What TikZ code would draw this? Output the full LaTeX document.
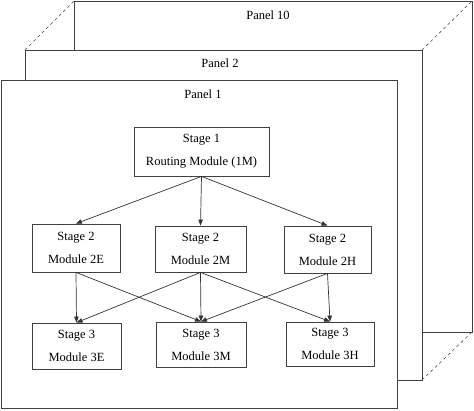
\documentclass[tikz,border=0pt]{standalone}
\usepackage{fontspec}
\setmainfont{Liberation Serif}
\usetikzlibrary{arrows.meta}
\begin{document}
\begin{tikzpicture}[x=1pt,y=-1pt,
  panel/.style={draw=black!75,line width=0.9pt,fill=white},
  link/.style={dashed,draw=black!70,line width=0.6pt},
  modbox/.style={draw=black!75,line width=0.8pt,fill=white,inner sep=0pt,align=center,
    font=\fontsize{12.5}{15}\selectfont},
  lbl/.style={inner sep=0pt,font=\fontsize{12.5}{15}\selectfont},
  conn/.style={draw=black!80,line width=0.7pt,-{Triangle[length=6pt,width=4.5pt]}}]
\useasboundingbox (0,0) rectangle (474,410);
% back panel 10
\draw[panel] (74,1) rectangle (472,332);
\node[lbl] (p10) at (268,15) {Panel 10};
% panel 2
\draw[panel] (25,50) rectangle (422,380);
\node[lbl] (p2) at (220,63) {Panel 2};
% panel 1
\draw[panel] (1,80) rectangle (397,408);
\node[lbl] (p1) at (203,94) {Panel 1};
% dashed perspective edges
\draw[link] (25,50) -- (74,1);
\draw[link] (422,50) -- (472,1);
\draw[link] (422,380) -- (472,332);
% modules
\node[modbox,minimum width=135pt,minimum height=49pt] (s1) at (201.5,151.5) {Stage 1\\[8pt]Routing Module (1M)};
\node[modbox,minimum width=88pt,minimum height=48pt] (e2) at (76,248) {Stage 2\\[8pt]Module 2E};
\node[modbox,minimum width=91pt,minimum height=46pt] (m2) at (200.5,249) {Stage 2\\[8pt]Module 2M};
\node[modbox,minimum width=87pt,minimum height=47pt] (h2) at (327.5,249.5) {Stage 2\\[8pt]Module 2H};
\node[modbox,minimum width=89pt,minimum height=46pt] (e3) at (76.5,346) {Stage 3\\[8pt]Module 3E};
\node[modbox,minimum width=90pt,minimum height=45pt] (m3) at (201,344.5) {Stage 3\\[8pt]Module 3M};
\node[modbox,minimum width=88pt,minimum height=44pt] (h3) at (330,344) {Stage 3\\[8pt]Module 3H};
% connectors
\draw[conn] (s1.south) -- (e2.north);
\draw[conn] (s1.south) -- (m2.north);
\draw[conn] (s1.south) -- (h2.north);
\draw[conn] (e2.south) -- (e3.north);
\draw[conn] (e2.south) -- (m3.north);
\draw[conn] (m2.south) -- (e3.north);
\draw[conn] (m2.south) -- (m3.north);
\draw[conn] (m2.south) -- (h3.north);
\draw[conn] (h2.south) -- (m3.north);
\draw[conn] (h2.south) -- (h3.north);
\end{tikzpicture}
\end{document}
